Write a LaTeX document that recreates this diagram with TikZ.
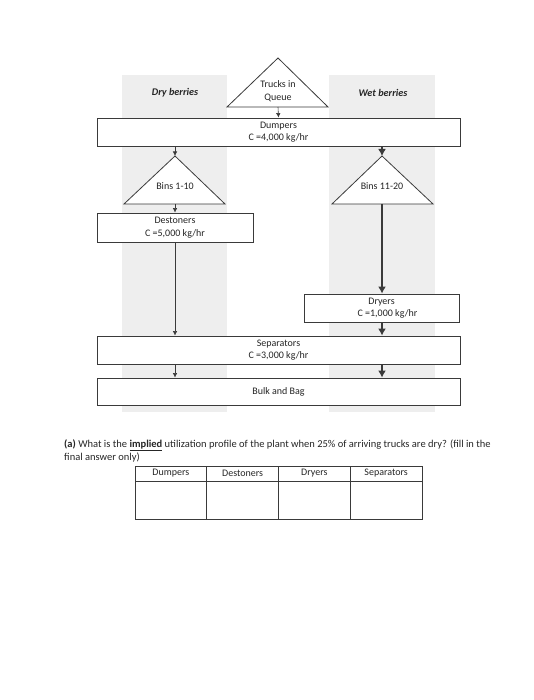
\documentclass[tikz,border=0pt]{standalone}
\usepackage{fontspec}
\setmainfont{Carlito}
\usetikzlibrary{positioning,arrows.meta}
\definecolor{BandGray}{HTML}{EEEEEE}
\definecolor{EdgeGray}{HTML}{3A3A3A}

\begin{document}
\begin{tikzpicture}[x=1pt,y=-1pt,every node/.style={font=\fontsize{10}{12.5}\selectfont,text=black!85},
  band/.style={fill=BandGray,draw=none},
  flowbox/.style={draw=EdgeGray,line width=.8pt,fill=white,align=center,inner sep=1pt},
  hopper/.style={draw=EdgeGray,line width=.8pt,fill=white,line join=miter},
  tag/.style={align=center,inner sep=1pt},
  flow/.style={-{Latex[length=4.5pt,width=4.5pt]},draw=EdgeGray,line width=.6pt},
  wetflow/.style={-{Latex[length=7pt,width=8pt]},draw=EdgeGray,line width=2.4pt},
  cell/.style={draw=EdgeGray,line width=.9pt,minimum width=71.75pt,inner sep=0pt}]
  \useasboundingbox (0,0) rectangle (534,700);

  % the two gray lanes
  \fill[band] (122,75) rectangle (227,412);
  \fill[band] (329,75) rectangle (435,412);
  \node[font=\fontsize{10.2}{12}\selectfont\bfseries\itshape] (dry) at (175,93) {Dry berries};
  \node[font=\fontsize{10.2}{12}\selectfont\bfseries\itshape] (wet) at (383,93) {Wet berries};

  % hoppers
  \draw[hopper] (278,58) -- (328,107) -- (227,107) -- cycle;
  \node[tag] (trucks) at (278,91) {Trucks in\\Queue};
  \coordinate (trucks-out) at (278,107);
  \draw[hopper] (175,156) -- (225,204) -- (124,204) -- cycle;
  \node[tag] (bins1) at (175,186) {Bins 1-10};
  \coordinate (bins1-in) at (175,156);
  \coordinate (bins1-out) at (175,204);
  \draw[hopper] (382,156) -- (433,204) -- (332,204) -- cycle;
  \node[tag] (bins2) at (382,186) {Bins 11-20};
  \coordinate (bins2-in) at (382,156);
  \coordinate (bins2-out) at (382,204);

  % stations
  \node[flowbox,minimum width=363pt,minimum height=28pt] (dumpers) at (278.5,132) {Dumpers\\C =4,000 kg/hr};
  \node[flowbox,minimum width=156pt,minimum height=29pt] (destoners) at (175,227.5) {Destoners\\C =5,000 kg/hr};
  \node[flowbox,minimum width=155pt,minimum height=28pt] (dryers) at (381.5,308) {Dryers\\\hspace*{1.2em}C =1,000 kg/hr};
  \node[flowbox,minimum width=363pt,minimum height=28pt] (separators) at (278.5,350) {Separators\\C =3,000 kg/hr};
  \node[flowbox,minimum width=363pt,minimum height=27pt] (bulk) at (278.5,391.5) {Bulk and Bag};

  % dry side
  \draw[flow] (trucks-out) -- (dumpers.north);
  \draw[flow] (dumpers.south -| bins1-in) -- (bins1-in);
  \draw[flow] (bins1-out) -- (destoners.north -| bins1-out);
  \draw[flow] (destoners.south) -- (separators.north -| destoners.south);
  \draw[flow] (separators.south -| destoners.south) -- (bulk.north -| destoners.south);
  % wet side
  \draw[wetflow] (dumpers.south -| bins2-in) -- (bins2-in);
  \draw[wetflow] (bins2-out) -- (dryers.north -| bins2-out);
  \draw[wetflow] (dryers.south -| bins2-out) -- (separators.north -| bins2-out);
  \draw[wetflow] (separators.south -| bins2-out) -- (bulk.north -| bins2-out);

  % question and answer table
  \node[anchor=north west,align=left,inner sep=0pt,font=\fontsize{10.5}{13}\selectfont] (question) at (64,439.5)
    {\textbf{(a)} What is the \textbf{\underline{implied}} utilization profile of the plant when 25\% of arriving trucks are dry? (fill in the\\final answer only)};
  \foreach \name [count=\i] in {Dumpers,Destoners,Dryers,Separators} {
    \node[cell,minimum height=15pt] (head\i) at (135+71.75*\i-35.875,473.5) {\name};
    \node[cell,minimum height=38pt] (ans\i) at (135+71.75*\i-35.875,500) {};
  }
\end{tikzpicture}
\end{document}
